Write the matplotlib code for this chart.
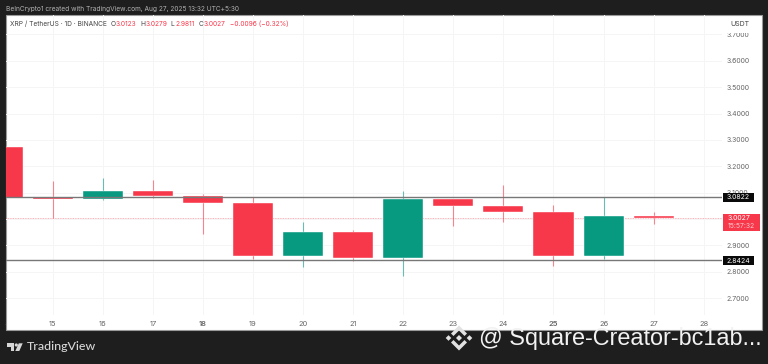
import matplotlib
matplotlib.use("Agg")
import matplotlib.pyplot as plt
from matplotlib.patches import Rectangle, Polygon

plt.rcParams['font.family'] = ['Inter', 'DejaVu Sans']

# daily candles
days   = [14, 15, 16, 17, 18, 19, 20, 21, 22, 23, 24, 25, 26, 27]
opens  = [3.274, 3.083, 3.077, 3.106, 3.088, 3.062, 2.861, 2.952, 2.852, 3.075, 3.049, 3.025, 2.858, 3.0123]
highs  = [3.274, 3.143, 3.157, 3.146, 3.096, 3.083, 2.988, 2.958, 3.105, 3.077, 3.130, 3.054, 3.083, 3.0279]
lows   = [3.080, 3.003, 3.073, 3.078, 2.942, 2.849, 2.819, 2.842, 2.783, 2.972, 2.987, 2.822, 2.847, 2.9811]
closes = [3.080, 3.077, 3.106, 3.087, 3.062, 2.861, 2.952, 2.852, 3.075, 3.048, 3.025, 2.858, 3.012, 3.0027]

price_ticks = [2.7, 2.8, 2.9, 3.0, 3.1, 3.2, 3.3, 3.4, 3.5, 3.6, 3.7]
date_ticks = [15, 16, 17, 18, 19, 20, 21, 22, 23, 24, 25, 26, 27, 28]
bold_dates = [18, 25]
support = 2.8424
resistance = 3.0822
last_price = 3.0027

RED = "#f7374a"
GREEN = "#089981"
DARK = "#1e1e1e"
W, H = 768, 364

fig = plt.figure(figsize=(7.68, 3.64), dpi=100, facecolor=DARK)

# white panel behind the chart
fig.patches.append(Rectangle((5.5 / W, 1 - 330 / H), 756.5 / W, 315 / H, transform=fig.transFigure,
                             facecolor="white", edgecolor="#9a9a9a", linewidth=0.8, zorder=-1))

ax = fig.add_axes([5.5 / W, 1 - 315 / H, 716.5 / W, 300 / H], facecolor="none")
for s in ax.spines.values():
    s.set_visible(False)
ax.set_axisbelow(True)
ax.grid(color="#f5f5f5", linewidth=0.7)

ax.yaxis.tick_right()
ax.set_yticks(price_ticks)
ax.set_yticklabels(["%.4f" % p for p in price_ticks])
ax.set_xticks(date_ticks)
ax.set_xticklabels([str(d) for d in date_ticks])
ax.tick_params(axis="y", length=0, pad=3.5, labelsize=5.0, labelcolor="#666666")
ax.tick_params(axis="x", length=0, pad=4.5, labelsize=5.4, labelcolor="#666666")
for lab, d in zip(ax.get_xticklabels(), date_ticks):
    if d in bold_dates:
        lab.set_fontweight("semibold")

colors = [GREEN if c >= o else RED for o, c in zip(opens, closes)]
ax.vlines(days, lows, highs, colors=colors, linewidth=0.8, alpha=0.6, zorder=2)
ax.bar(days, [abs(c - o) for o, c in zip(opens, closes)], bottom=[min(o, c) for o, c in zip(opens, closes)],
       width=0.8, color=colors, edgecolor="#ffffff", linewidth=0.3, zorder=3)

ax.axhline(last_price, color=RED, linewidth=0.6, linestyle=(0, (1, 1)), alpha=0.5, zorder=1)
ax.axhline(resistance, color="#777777", linewidth=1.0, zorder=4)
ax.axhline(support, color="#777777", linewidth=1.0, zorder=4)

# limits last, set_xticks widens them otherwise
ax.set_xlim(14.0575, 28.365)
ax.set_ylim(2.6355, 3.774)

# the 14 label is cut off by the left edge of the panel
ax.text(14, -0.029, "14", transform=ax.get_xaxis_transform(), clip_on=False,
        fontsize=5.4, color="#666666", ha="center", va="center")

# overlay in pixel coordinates for labels and page furniture
top = fig.add_axes([0, 0, 1, 1], facecolor="none", zorder=5)
top.set_xlim(0, W)
top.set_ylim(H, 0)
top.axis("off")
top.add_patch(Rectangle((0, 315), 4.8, 20, facecolor=DARK, edgecolor="none"))

top.text(6, 9, "BeInCrypto1 created with TradingView.com, Aug 27, 2025 13:32 UTC+5:30",
         color="#b4b4b4", fontsize=4.72, va="center")

# header with OHLC values
hdr_y = 24
for x, s, c in [(10, "XRP / TetherUS · 1D · BINANCE", "#444444"),
                (110.5, "O", "#444444"), (115.5, "3.0123", RED),
                (140.5, "H", "#444444"), (145.5, "3.0279", RED),
                (170.5, "L", "#444444"), (175, "2.9811", RED),
                (199, "C", "#444444"), (204, "3.0027", RED),
                (229.5, "−0.0096 (−0.32%)", RED)]:
    top.text(x, hdr_y, s, color=c, fontsize=4.75, va="center")

top.add_patch(Rectangle((725, 18), 35, 15, facecolor="white", edgecolor="none"))
top.text(730, 24.5, "USDT", color="#444444", fontsize=5.0, va="center")

# price labels on the axis
for y0, h, val in [(193, 8.7, resistance), (256.3, 8.7, support)]:
    top.add_patch(Rectangle((723, y0), 31, h, facecolor="#0a0a0a", edgecolor="none"))
    top.text(738.5, y0 + h / 2, "%.4f" % val, color="white", fontsize=5.0, ha="center", va="center")
top.add_patch(Rectangle((723, 213.7), 36.5, 17, facecolor=RED, edgecolor="none"))
top.text(727.5, 218, "%.4f" % last_price, color="white", fontsize=5.0, va="center")
top.text(727.5, 226, "15:57:32", color="#ffc9ce", fontsize=4.9, va="center")

# TradingView logo and name
logo = "#d6d6d6"
top.add_patch(Polygon([(6.7, 343.3), (14, 343.3), (14, 351), (10.5, 351), (10.5, 346.5), (6.7, 346.5)], facecolor=logo, edgecolor="none"))
top.add_patch(Polygon([(18.8, 343.3), (22.7, 343.3), (19.3, 351), (15.3, 351)], facecolor=logo, edgecolor="none"))
top.add_patch(plt.Circle((16.3, 345), 1.6, facecolor=logo, edgecolor="none"))
top.text(27, 347, "TradingView", color=logo, fontsize=8.9, fontweight="medium", va="center",
         family=["Lato", "DejaVu Sans"])

# Binance watermark
wm = "#e2e2e2"
for cx, cy, r in [(459, 338, 3), (448.5, 338, 2.8), (469.5, 338, 2.8)]:
    top.add_patch(Polygon([(cx, cy - r), (cx + r, cy), (cx, cy + r), (cx - r, cy)], facecolor=wm, edgecolor="none"))
top.add_patch(Polygon([(459, 325.5), (467, 333.5), (464.5, 336), (459, 330.5), (453.5, 336), (451, 333.5)], facecolor=wm, edgecolor="none"))
top.add_patch(Polygon([(459, 350.5), (467, 342.5), (464.5, 340), (459, 345.5), (453.5, 340), (451, 342.5)], facecolor=wm, edgecolor="none"))
top.text(479, 338, "@ Square-Creator-bc1ab...", color="#f2f2f2", fontsize=16.8, va="center",
         family=["Liberation Sans", "DejaVu Sans"])

fig.savefig("out.png", dpi=100, facecolor=DARK)
